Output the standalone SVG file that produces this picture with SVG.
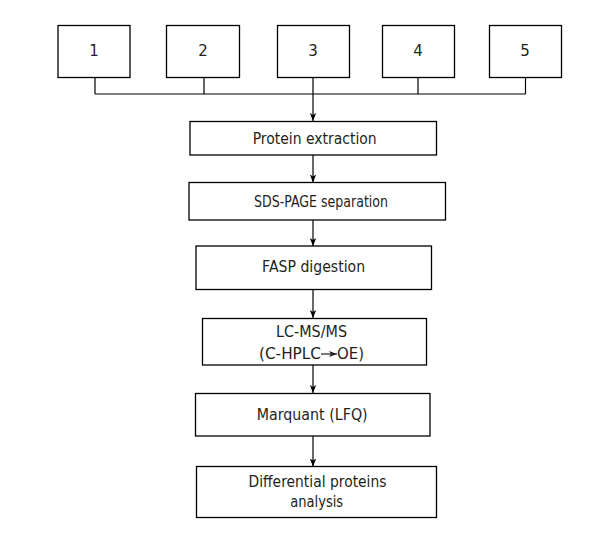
<svg xmlns="http://www.w3.org/2000/svg" width="593" height="534" viewBox="0 0 593 534">
<defs>
<marker id="ah" markerWidth="8" markerHeight="8" viewBox="0 0 8 8" refX="8" refY="4" orient="auto" markerUnits="userSpaceOnUse">
<path d="M0,0.8 L8,4 L0,7.2 L2,4 Z" fill="#000"/>
</marker>
<marker id="ahs" markerWidth="8" markerHeight="7" viewBox="0 0 8 7" refX="8" refY="3.5" orient="auto" markerUnits="userSpaceOnUse">
<path d="M0,0.5 L8,3.5 L0,6.5 L2,3.5 Z" fill="#222"/>
</marker>
<style>
.box{fill:#fff;stroke:#000;stroke-width:1.3}
.t{font-family:"DejaVu Sans",Verdana,sans-serif;font-size:15px;fill:#231f20;text-anchor:middle}
.n{font-family:"DejaVu Sans",Verdana,sans-serif;font-size:15px;fill:#231f20;text-anchor:middle}
.c{fill:none;stroke:#000;stroke-width:1.2}
</style>
</defs>
<rect width="593" height="534" fill="#fff"/>
<g id="connectors">
<path class="c" d="M95,77 V94 M204,77 V94 M418,77 V94 M525.5,77 V94 M95,94 H525.5 M313,77 V94"/>
<path class="c" d="M313,94 V121" marker-end="url(#ah)"/>
<path class="c" d="M313,155 V182.5" marker-end="url(#ah)"/>
<path class="c" d="M313,220 V246" marker-end="url(#ah)"/>
<path class="c" d="M313,289 V318" marker-end="url(#ah)"/>
<path class="c" d="M313,365 V393" marker-end="url(#ah)"/>
<path class="c" d="M313,436 V466.5" marker-end="url(#ah)"/>
</g>
<g id="n1"><rect class="box" x="58" y="25.5" width="72" height="52"/><text class="n" x="94" y="56">1</text></g>
<g id="n2"><rect class="box" x="166.5" y="25.5" width="73" height="52"/><text class="n" x="203" y="56">2</text></g>
<g id="n3"><rect class="box" x="277.5" y="25.5" width="72" height="52"/><text class="n" x="313" y="56">3</text></g>
<g id="n4"><rect class="box" x="382.5" y="25.5" width="72" height="52"/><text class="n" x="418" y="56">4</text></g>
<g id="n5"><rect class="box" x="489.5" y="25.5" width="72" height="52"/><text class="n" x="525" y="56">5</text></g>
<g id="protein-extraction"><rect class="box" x="190" y="121.5" width="246.5" height="33.5"/><text class="t" x="314.7" y="143.5" textLength="124" lengthAdjust="spacingAndGlyphs">Protein extraction</text></g>
<g id="sds-page"><rect class="box" x="189" y="182.5" width="256.5" height="37.5"/><text class="t" x="321" y="206.7" textLength="134" lengthAdjust="spacingAndGlyphs">SDS-PAGE separation</text></g>
<g id="fasp"><rect class="box" x="196" y="246" width="235.5" height="43.5"/><text class="t" x="313.6" y="272" textLength="103" lengthAdjust="spacingAndGlyphs">FASP digestion</text></g>
<g id="lcms"><rect class="box" x="202.5" y="318.5" width="224" height="46.5"/>
<text class="t" x="311.5" y="336.7" textLength="71" lengthAdjust="spacingAndGlyphs">LC-MS/MS</text>
<text class="t" x="290" y="359" textLength="62" lengthAdjust="spacingAndGlyphs">(C-HPLC</text>
<text class="t" x="350.5" y="359" textLength="27" lengthAdjust="spacingAndGlyphs">OE)</text>
<path d="M321,354 H337" stroke="#222" stroke-width="1.2" fill="none" marker-end="url(#ahs)"/>
</g>
<g id="marquant"><rect class="box" x="195.5" y="393.5" width="234.5" height="42.5"/><text class="t" x="312.2" y="420" textLength="111" lengthAdjust="spacingAndGlyphs">Marquant (LFQ)</text></g>
<g id="differential"><rect class="box" x="196.5" y="466.5" width="240" height="51"/>
<text class="t" x="317.5" y="486.7" textLength="138" lengthAdjust="spacingAndGlyphs">Differential proteins</text>
<text class="t" x="316.7" y="507" textLength="53" lengthAdjust="spacingAndGlyphs">analysis</text>
</g>
</svg>
